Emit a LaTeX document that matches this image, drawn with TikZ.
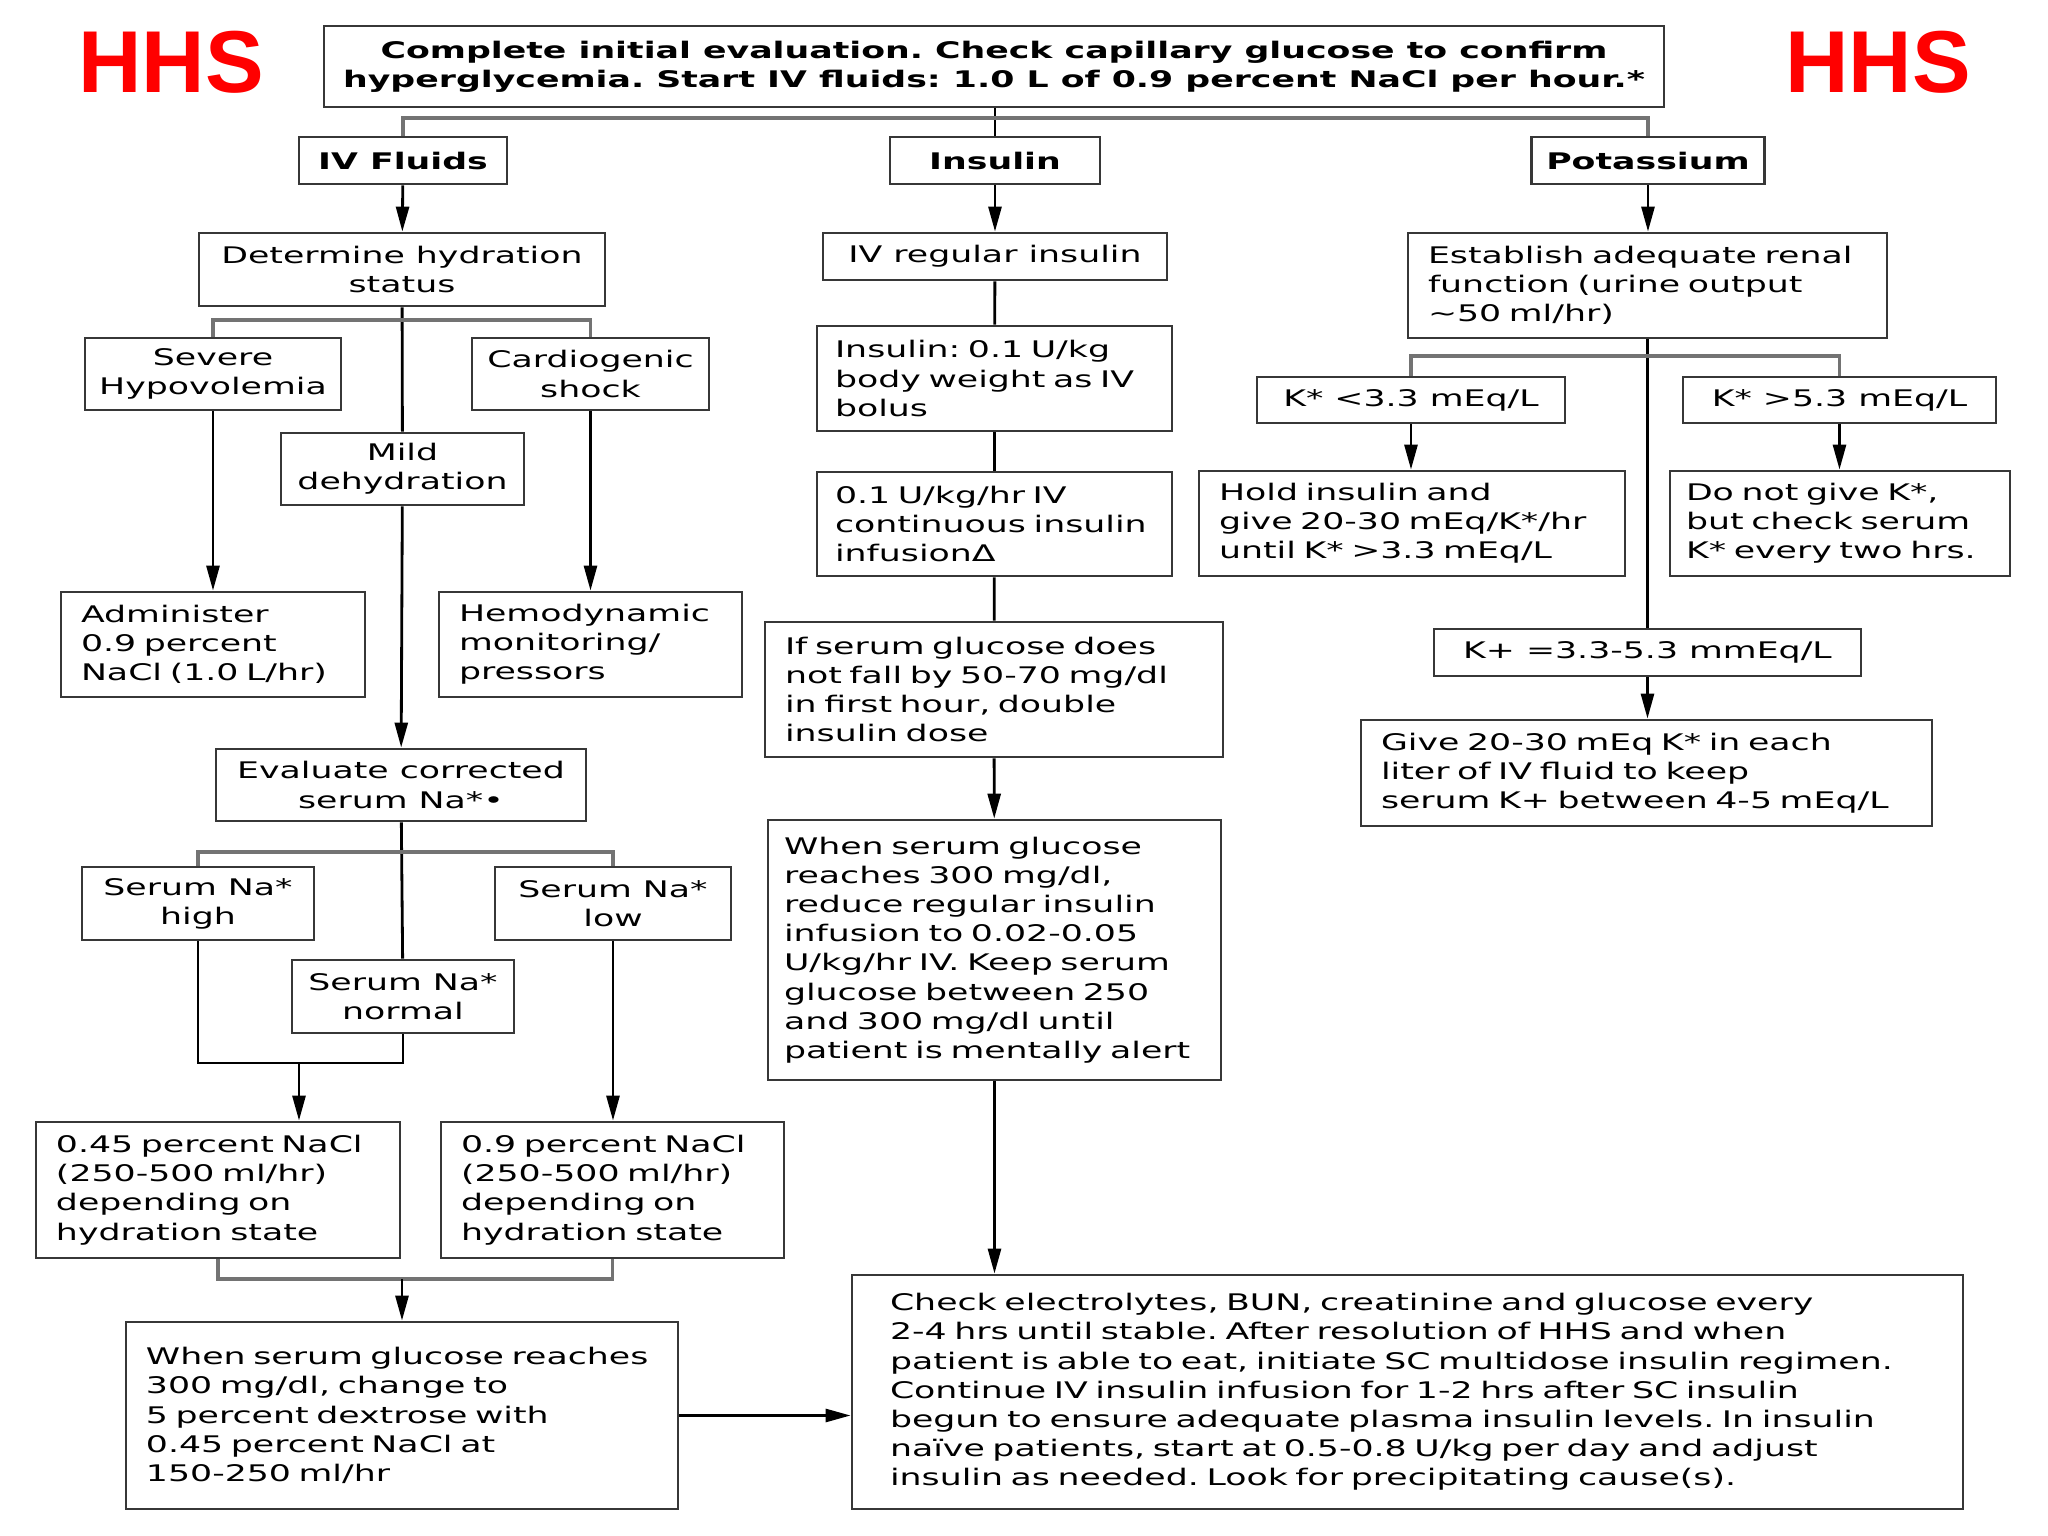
\documentclass[tikz,border=0pt]{standalone}
\usepackage{fontspec}
\setmainfont{DejaVu Sans}[FakeStretch=1.52]
\newfontfamily\hhsfont{Liberation Sans}
\usetikzlibrary{arrows.meta}
\definecolor{hhs_red}{RGB}{255,0,0}
\definecolor{box_line}{RGB}{55,55,55}
\definecolor{bus_gray}{RGB}{115,115,115}

\begin{document}
\frenchspacing
\begin{tikzpicture}[>={Triangle[length=2.5mm,width=1.3mm]}]
    \fontsize{6.5}{8.3}\selectfont
    \tikzstyle{box}=[draw=box_line, rectangle, line width=0.8pt, inner sep=1pt, align=center, text=black]
    \tikzstyle{lbox}=[box, align=left, inner xsep=0.2cm]
    \tikzstyle{head}=[box, font=\bfseries, minimum height=0.47cm]
    \tikzstyle{hhs}=[text=hhs_red, font=\hhsfont\bfseries\fontsize{25}{25}\selectfont]
    \tikzstyle{line}=[draw=black, line width=0.8pt]
    \tikzstyle{arr}=[line, ->]
    \tikzstyle{bus}=[draw=bus_gray, line width=1.1pt]

    \useasboundingbox (0,0) rectangle (20.48,-15.36);

    \node[hhs] (hhsL) at (1.71,-0.62) {HHS};
    \node[hhs] (hhsR) at (18.78,-0.62) {HHS};
    \node[box, font=\bfseries, minimum width=13.40cm, minimum height=0.81cm] (start) at (9.94,-0.665)
      {Complete initial evaluation. Check capillary glucose to confirm\\hyperglycemia. Start IV fluids: 1.0 L of 0.9 percent NaCl per hour.*};

    \node[head, minimum width=2.08cm] (ivf) at (4.03,-1.605) {IV Fluids};
    \node[head, minimum width=2.10cm] (ins) at (9.95,-1.605) {Insulin};
    \node[head, minimum width=2.33cm] (pot) at (16.48,-1.605) {Potassium};

    % IV fluids column
    \node[box, minimum width=4.06cm, minimum height=0.73cm] (hydr) at (4.02,-2.695) {Determine hydration\\status};
    \node[box, minimum width=2.56cm, minimum height=0.72cm] (severe) at (2.13,-3.74) {Severe\\Hypovolemia};
    \node[box, minimum width=2.37cm, minimum height=0.72cm] (cardio) at (5.905,-3.74) {Cardiogenic\\shock};
    \node[box, minimum width=2.43cm, minimum height=0.72cm] (mild) at (4.025,-4.69) {Mild\\dehydration};
    \node[lbox, text width=2.64cm, minimum height=1.05cm] (admin) at (2.13,-6.445) {Administer\\0.9 percent\\NaCl (1.0 L/hr)};
    \node[lbox, text width=2.63cm, minimum height=1.05cm] (hemo) at (5.905,-6.445) {Hemodynamic\\monitoring/\\pressors};
    \node[box, minimum width=3.70cm, minimum height=0.72cm] (evalna) at (4.01,-7.85) {Evaluate corrected\\serum Na*•};
    \node[box, minimum width=2.32cm, minimum height=0.73cm] (nahigh) at (1.98,-9.035) {Serum Na*\\high};
    \node[box, minimum width=2.36cm, minimum height=0.73cm] (nalow) at (6.13,-9.035) {Serum Na*\\low};
    \node[box, minimum width=2.22cm, minimum height=0.73cm] (nanorm) at (4.03,-9.965) {Serum Na*\\normal};
    \node[lbox, text width=3.24cm, minimum height=1.36cm] (half) at (2.18,-11.90) {0.45 percent NaCl\\(250-500 ml/hr)\\depending on\\hydration state};
    \node[lbox, text width=3.03cm, minimum height=1.36cm] (full) at (6.125,-11.90) {0.9 percent NaCl\\(250-500 ml/hr)\\depending on\\hydration state};
    \node[lbox, text width=5.12cm, minimum height=1.87cm] (dextr) at (4.02,-14.155)
      {When serum glucose reaches\\300 mg/dl, change to\\5 percent dextrose with\\0.45 percent NaCl at\\150-250 ml/hr};

    % insulin column
    \node[box, minimum width=3.44cm, minimum height=0.47cm] (regular) at (9.95,-2.565) {IV regular insulin};
    \node[lbox, inner xsep=0.18cm, text width=3.19cm, minimum height=1.05cm] (bolus) at (9.945,-3.785) {Insulin: 0.1 U/kg\\body weight as IV\\bolus};
    \node[lbox, inner xsep=0.18cm, text width=3.19cm, minimum height=1.04cm] (infus) at (9.945,-5.24) {0.1 U/kg/hr IV\\continuous insulin\\infusionΔ};
    \node[lbox, text width=4.18cm, minimum height=1.35cm] (double) at (9.94,-6.895)
      {If serum glucose does\\not fall by 50-70 mg/dl\\in first hour, double\\insulin dose};
    \node[lbox, inner xsep=0.16cm, text width=4.21cm, minimum height=2.60cm] (reduce) at (9.945,-9.50)
      {When serum glucose\\reaches 300 mg/dl,\\reduce regular insulin\\infusion to 0.02-0.05\\U/kg/hr IV. Keep serum\\glucose between 250\\and 300 mg/dl until\\patient is mentally alert};
    \node[lbox, inner xsep=0.38cm, text width=10.35cm, minimum height=2.34cm] (check) at (14.075,-13.92)
      {Check electrolytes, BUN, creatinine and glucose every\\2-4 hrs until stable. After resolution of HHS and when\\patient is able to eat, initiate SC multidose insulin regimen.\\Continue IV insulin infusion for 1-2 hrs after SC insulin\\begun to ensure adequate plasma insulin levels. In insulin\\naïve patients, start at 0.5-0.8 U/kg per day and adjust\\insulin as needed. Look for precipitating cause(s).};

    % potassium column
    \node[lbox, text width=4.39cm, minimum height=1.05cm] (renal) at (16.475,-2.855)
      {Establish adequate renal\\function (urine output\\\textasciitilde50 ml/hr)};
    \node[box, minimum width=3.08cm, minimum height=0.46cm] (klow) at (14.11,-4.00) {K* <3.3 mEq/L};
    \node[box, minimum width=3.13cm, minimum height=0.46cm] (khigh) at (18.395,-4.00) {K* >5.3 mEq/L};
    \node[lbox, text width=3.86cm, minimum height=1.05cm] (hold) at (14.12,-5.235)
      {Hold insulin and\\give 20-30 mEq/K*/hr\\until K* >3.3 mEq/L};
    \node[lbox, inner xsep=0.16cm, text width=3.08cm, minimum height=1.05cm] (nogive) at (18.40,-5.235)
      {Do not give K*,\\but check serum\\K* every two hrs.};
    \node[box, minimum width=4.27cm, minimum height=0.47cm] (knorm) at (16.475,-6.525) {K+ =3.3-5.3 mmEq/L};
    \node[lbox, text width=5.31cm, minimum height=1.06cm] (givek) at (16.465,-7.73)
      {Give 20-30 mEq K* in each\\liter of IV fluid to keep\\serum K+ between 4-5 mEq/L};

    % branches
    \draw[line] (start.south -| ins) -- (ins.north);
    \draw[bus] (ivf.north) -- ++(0,0.18) -| (pot.north);
    \draw[arr] (ivf) -- (hydr);
    \draw[arr] (ins) -- (regular);
    \draw[arr] (pot.south) -- (pot.south |- renal.north);

    \draw[line] (hydr) -- (mild);
    \draw[bus] (severe.north) -- ++(0,0.17) -| (cardio.north);
    \draw[arr] (severe) -- (admin);
    \draw[arr] (cardio) -- (hemo);
    \draw[arr] (mild) -- (evalna);

    \draw[line] (evalna) -- (nanorm);
    \draw[bus] (nahigh.north) -- ++(0,0.14) -| (nalow.north);
    \coordinate (hn) at (2.99,-10.63);
    \draw[line] (nahigh.south) |- (hn) -| (nanorm.south);
    \draw[arr] (hn) -- (hn |- half.north);
    \draw[arr] (nalow.south) -- (nalow.south |- full.north);
    \coordinate (hf) at (4.02,-12.79);
    \draw[bus] (half.south) |- (hf) -| (full.south);
    \draw[arr] (hf) -- (dextr.north);
    \draw[arr] (dextr.east) -- (check.west |- dextr.east);

    \draw[line] (regular) -- (bolus);
    \draw[line] (bolus) -- (infus);
    \draw[line] (infus) -- (double);
    \draw[arr] (double) -- (reduce);
    \draw[arr] (reduce.south) -- (reduce.south |- check.north);

    \draw[line] (renal.south) -- (renal.south |- knorm.north);
    \draw[bus] (klow.north) -- ++(0,0.20) -| (khigh.north);
    \draw[arr] (klow.south) -- (klow.south |- hold.north);
    \draw[arr] (khigh.south) -- (khigh.south |- nogive.north);
    \draw[arr] (knorm.south) -- (knorm.south |- givek.north);
\end{tikzpicture}
\end{document}
